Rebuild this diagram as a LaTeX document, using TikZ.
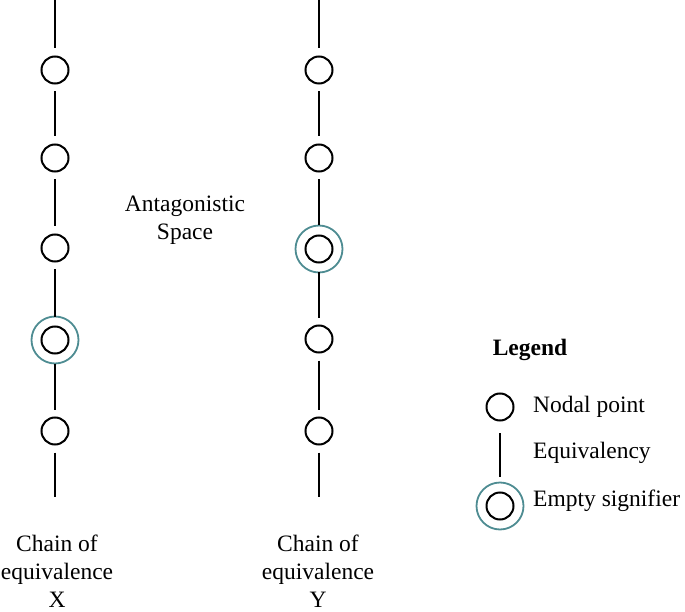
\documentclass[tikz,border=0pt]{standalone}
\usepackage{fontspec}
\setmainfont{Liberation Serif}
\definecolor{tealring}{RGB}{78,140,146}
\begin{document}
\begin{tikzpicture}[x=1pt,y=-1pt,
  nodal/.style={circle,draw=black,line width=2pt,minimum size=27pt,inner sep=0pt,outer sep=8pt},
  emptysig/.style={circle,draw=tealring,line width=1.8pt,minimum size=47pt,inner sep=0pt,outer sep=0pt,
    path picture={\draw[black,line width=2pt] (path picture bounding box.center) circle (13.5pt);}},
  equiv/.style={draw=black,line width=2pt},
  lbl/.style={font=\fontsize{23.5}{28}\selectfont,align=center,inner sep=0pt},
  leg/.style={font=\fontsize{23.5}{28}\selectfont,anchor=west,inner sep=0pt}]
\useasboundingbox (0,0) rectangle (685,612);
% Chain X
\coordinate (xt) at (55,0);
\node[nodal] (x1) at (55,70) {};
\node[nodal] (x2) at (55,158) {};
\node[nodal] (x3) at (55,248) {};
\node[emptysig] (x4) at (55,340) {};
\node[nodal] (x5) at (55,431) {};
\coordinate (xb) at (55,497);
\draw[equiv] (xt) -- (x1);
\draw[equiv] (x1) -- (x2);
\draw[equiv] (x2) -- (x3);
\draw[equiv] (x3) -- (x4);
\draw[equiv] (x4) -- (x5);
\draw[equiv] (x5) -- (xb);
% Chain Y
\coordinate (yt) at (319,0);
\node[nodal] (y1) at (319,70) {};
\node[nodal] (y2) at (319,158) {};
\node[emptysig] (y3) at (319,249) {};
\node[nodal] (y4) at (319,339) {};
\node[nodal] (y5) at (319,431) {};
\coordinate (yb) at (319,497);
\draw[equiv] (yt) -- (y1);
\draw[equiv] (y1) -- (y2);
\draw[equiv] (y2) -- (y3);
\draw[equiv] (y3) -- (y4);
\draw[equiv] (y4) -- (y5);
\draw[equiv] (y5) -- (yb);
% Texts
\node[lbl] (ant) at (185,220) {Antagonistic\\Space};
\node[lbl] (cx) at (57,571) {Chain of\\equivalence\\X};
\node[lbl] (cy) at (318,571) {Chain of\\equivalence\\Y};
% Legend
\node[font=\fontsize{23.5}{28}\selectfont\bfseries,inner sep=0pt] (legt) at (530,350) {Legend};
\node[nodal] (ln) at (500,407) {};
\node[emptysig] (le) at (500,506) {};
\draw[equiv,shorten <=4.5pt,shorten >=5.5pt] (ln) -- (le);
\node[leg] (tn) at (533,407) {Nodal point};
\node[leg] (te) at (533,453) {Equivalency};
\node[leg] (ts) at (533,501) {Empty signifier};
\end{tikzpicture}
\end{document}
